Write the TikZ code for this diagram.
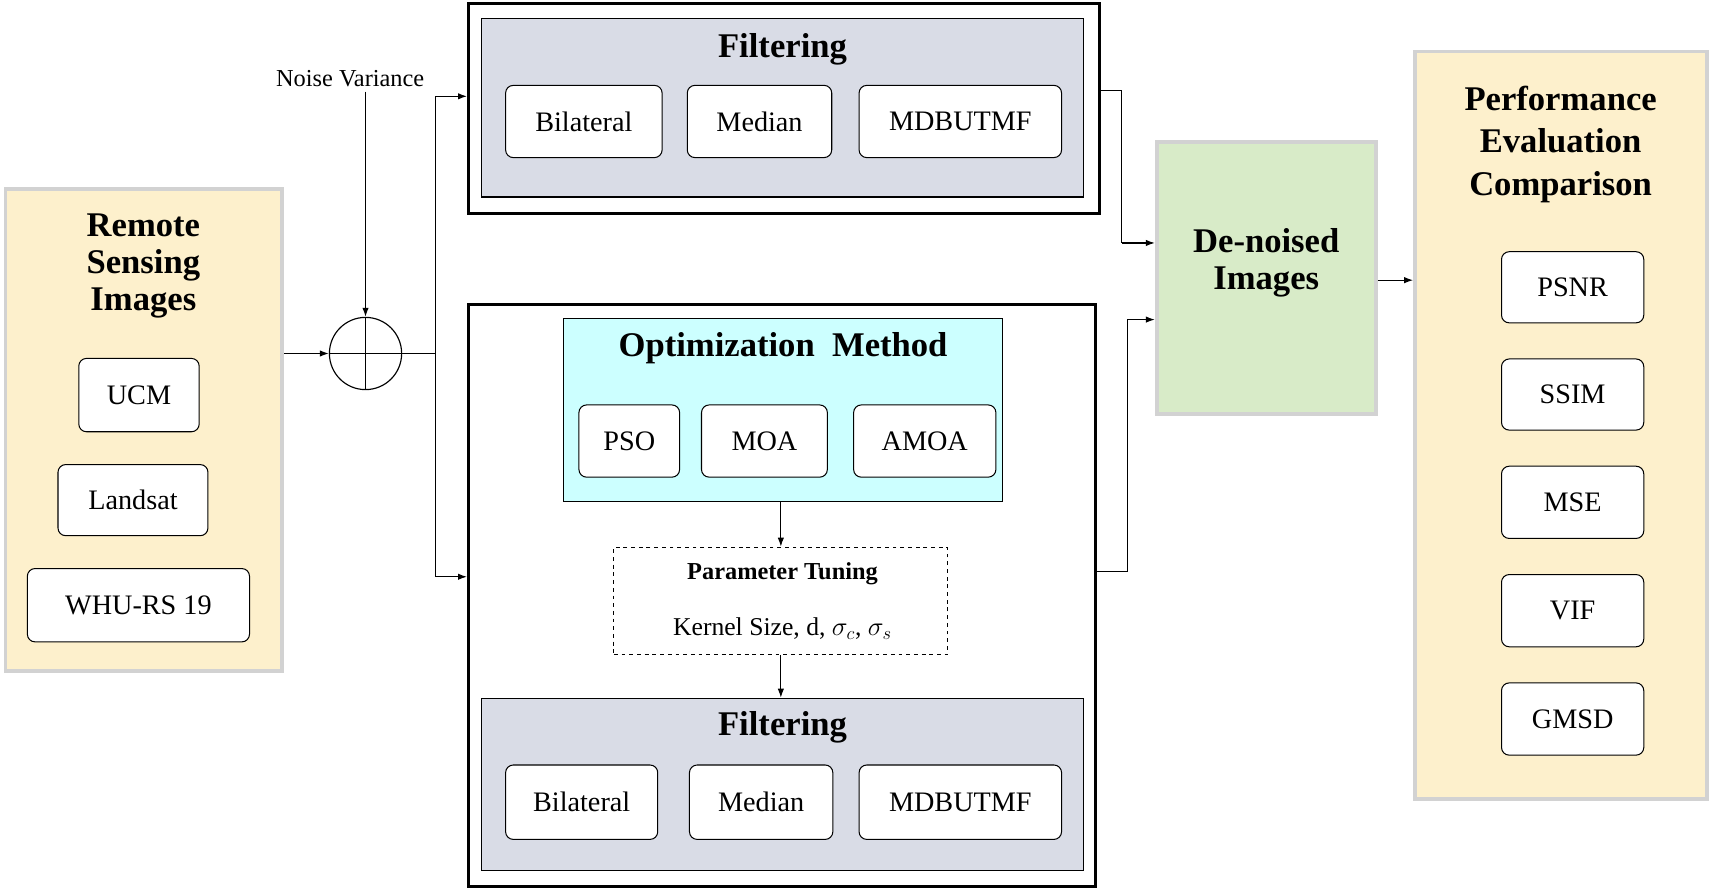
\documentclass[tikz,border=0pt]{standalone}
\usepackage{fontspec}
\setmainfont{Liberation Serif}
\usetikzlibrary{arrows.meta}
\definecolor{cream}{HTML}{FDF0CC}
\definecolor{grayfill}{HTML}{D9DCE6}
\definecolor{cyanfill}{HTML}{CCFFFF}
\definecolor{greenfill}{HTML}{D8EBC8}
\begin{document}
\begin{tikzpicture}[x=0.3mm,y=-0.3mm,
  w/.style={minimum width=#1*0.3mm},
  h/.style={minimum height=#1*0.3mm},
  btn/.style={draw,rounded corners=6pt,fill=white,line width=0.8pt,inner sep=0pt,font=\fontsize{22}{26}\selectfont},
  ttl/.style={font=\fontsize{27}{33}\selectfont\bfseries,align=center},
  arr/.style={-{Latex[length=7pt,width=5pt]},line width=0.9pt},
  ln/.style={line width=0.9pt}]
\useasboundingbox (0,0) rectangle (1568,815);
% left input box
\node[draw=gray!35,line width=3pt,fill=cream,w=253,h=440] (inp) at (131.5,393) {};
\node[ttl] at (131,243) {Remote\\[-4pt]Sensing\\[-4pt]Images};
\node[btn,w=110,h=67] (ucm) at (127,361) {UCM};
\node[btn,w=137,h=65] (land) at (121.5,457) {Landsat};
\node[btn,w=203,h=67] (whu) at (126.5,553) {WHU-RS 19};
% adder
\node[draw,circle,line width=0.9pt,minimum size=66*0.3mm,inner sep=0pt] (sum) at (334,323) {};
\draw[ln] (sum.north)--(sum.south) (sum.west)--(sum.east);
\node[font=\fontsize{19}{22}\selectfont] (nv) at (320,72) {Noise Variance};
\draw[arr] (inp.east|-sum) -- (sum);
\draw[arr] (nv.south-|sum) -- (sum.north);
\coordinate (split) at (398,323);
\coordinate (vt) at (398,88);
\coordinate (vb) at (398,527);
\draw[ln] (sum.east) -- (split);
\draw[ln] (vt) -- (vb);
% top filtering
\node[draw,line width=2.2pt,w=577,h=192] (topo) at (716.5,99) {};
\node[draw,fill=grayfill,line width=0.8pt,w=550,h=163] (topi) at (715,98.5) {};
\node[ttl] at (715,45) {Filtering};
\node[btn,w=143,h=66] at (533.5,111) {Bilateral};
\node[btn,w=132,h=66] at (694,111) {Median};
\node[btn,w=185,h=66] at (877.5,111) {MDBUTMF};
\draw[arr] (vt) -- (vt-|topo.west);
% bottom block
\node[draw,line width=2.2pt,w=573,h=532] (boto) at (714.5,544) {};
\draw[arr] (vb) -- (vb-|boto.west);
\node[draw,fill=cyanfill,line width=0.8pt,w=401,h=167] (opt) at (715.5,374.5) {};
\node[ttl] at (715.5,318) {Optimization\ \ Method};
\node[btn,w=92,h=66] at (575,403) {PSO};
\node[btn,w=115,h=66] at (698.5,403) {MOA};
\node[btn,w=130,h=66] at (845,403) {AMOA};
\node[draw,dashed,fill=white,line width=0.8pt,w=305,h=98] (par) at (713.5,549) {};
\node[font=\fontsize{19}{22}\selectfont\bfseries] at (715,524) {Parameter Tuning};
\node[font=\fontsize{20}{24}\selectfont] at (715,574) {Kernel Size, d, $\sigma_c$, $\sigma_s$};
\node[draw,fill=grayfill,line width=0.8pt,w=550,h=157] (boti) at (715,716.5) {};
\node[ttl] at (715,665) {Filtering};
\node[btn,w=139,h=68] at (531.5,733) {Bilateral};
\node[btn,w=131,h=68] at (695.5,733) {Median};
\node[btn,w=185,h=68] at (877.5,733) {MDBUTMF};
\draw[arr] (opt.south-|par) -- (par.north);
\draw[arr] (par.south) -- (boti.north-|par);
% denoised
\node[draw=gray!35,line width=3pt,fill=greenfill,w=200,h=248] (den) at (1157,254) {};
\node[ttl] at (1157,240) {De-noised\\[-4pt]Images};
\coordinate (t1) at (1025,83);
\coordinate (t2) at (1025,222);
\coordinate (b1) at (1030,522);
\coordinate (b2) at (1030,292);
\draw[ln] (topo.east|-t1) -- (t1) -- (t2);
\draw[arr] (t2) -- (t2-|den.west);
\draw[ln] (boto.east|-b1) -- (b1) -- (b2);
\draw[arr] (b2) -- (b2-|den.west);
% performance
\node[draw=gray!35,line width=3pt,fill=cream,w=267,h=683] (perf) at (1426.5,388.5) {};
\node[ttl] at (1426,132) {Performance\\[0pt]Evaluation\\[0pt]Comparison};
\node[btn,w=130,h=65] at (1437,262.5) {PSNR};
\node[btn,w=130,h=65] at (1437,360.5) {SSIM};
\node[btn,w=130,h=66] at (1437,459) {MSE};
\node[btn,w=130,h=66] at (1437,558) {VIF};
\node[btn,w=130,h=66] at (1437,657) {GMSD};
\draw[arr] (den.east|-0,256) -- (perf.west|-0,256);
\end{tikzpicture}
\end{document}
